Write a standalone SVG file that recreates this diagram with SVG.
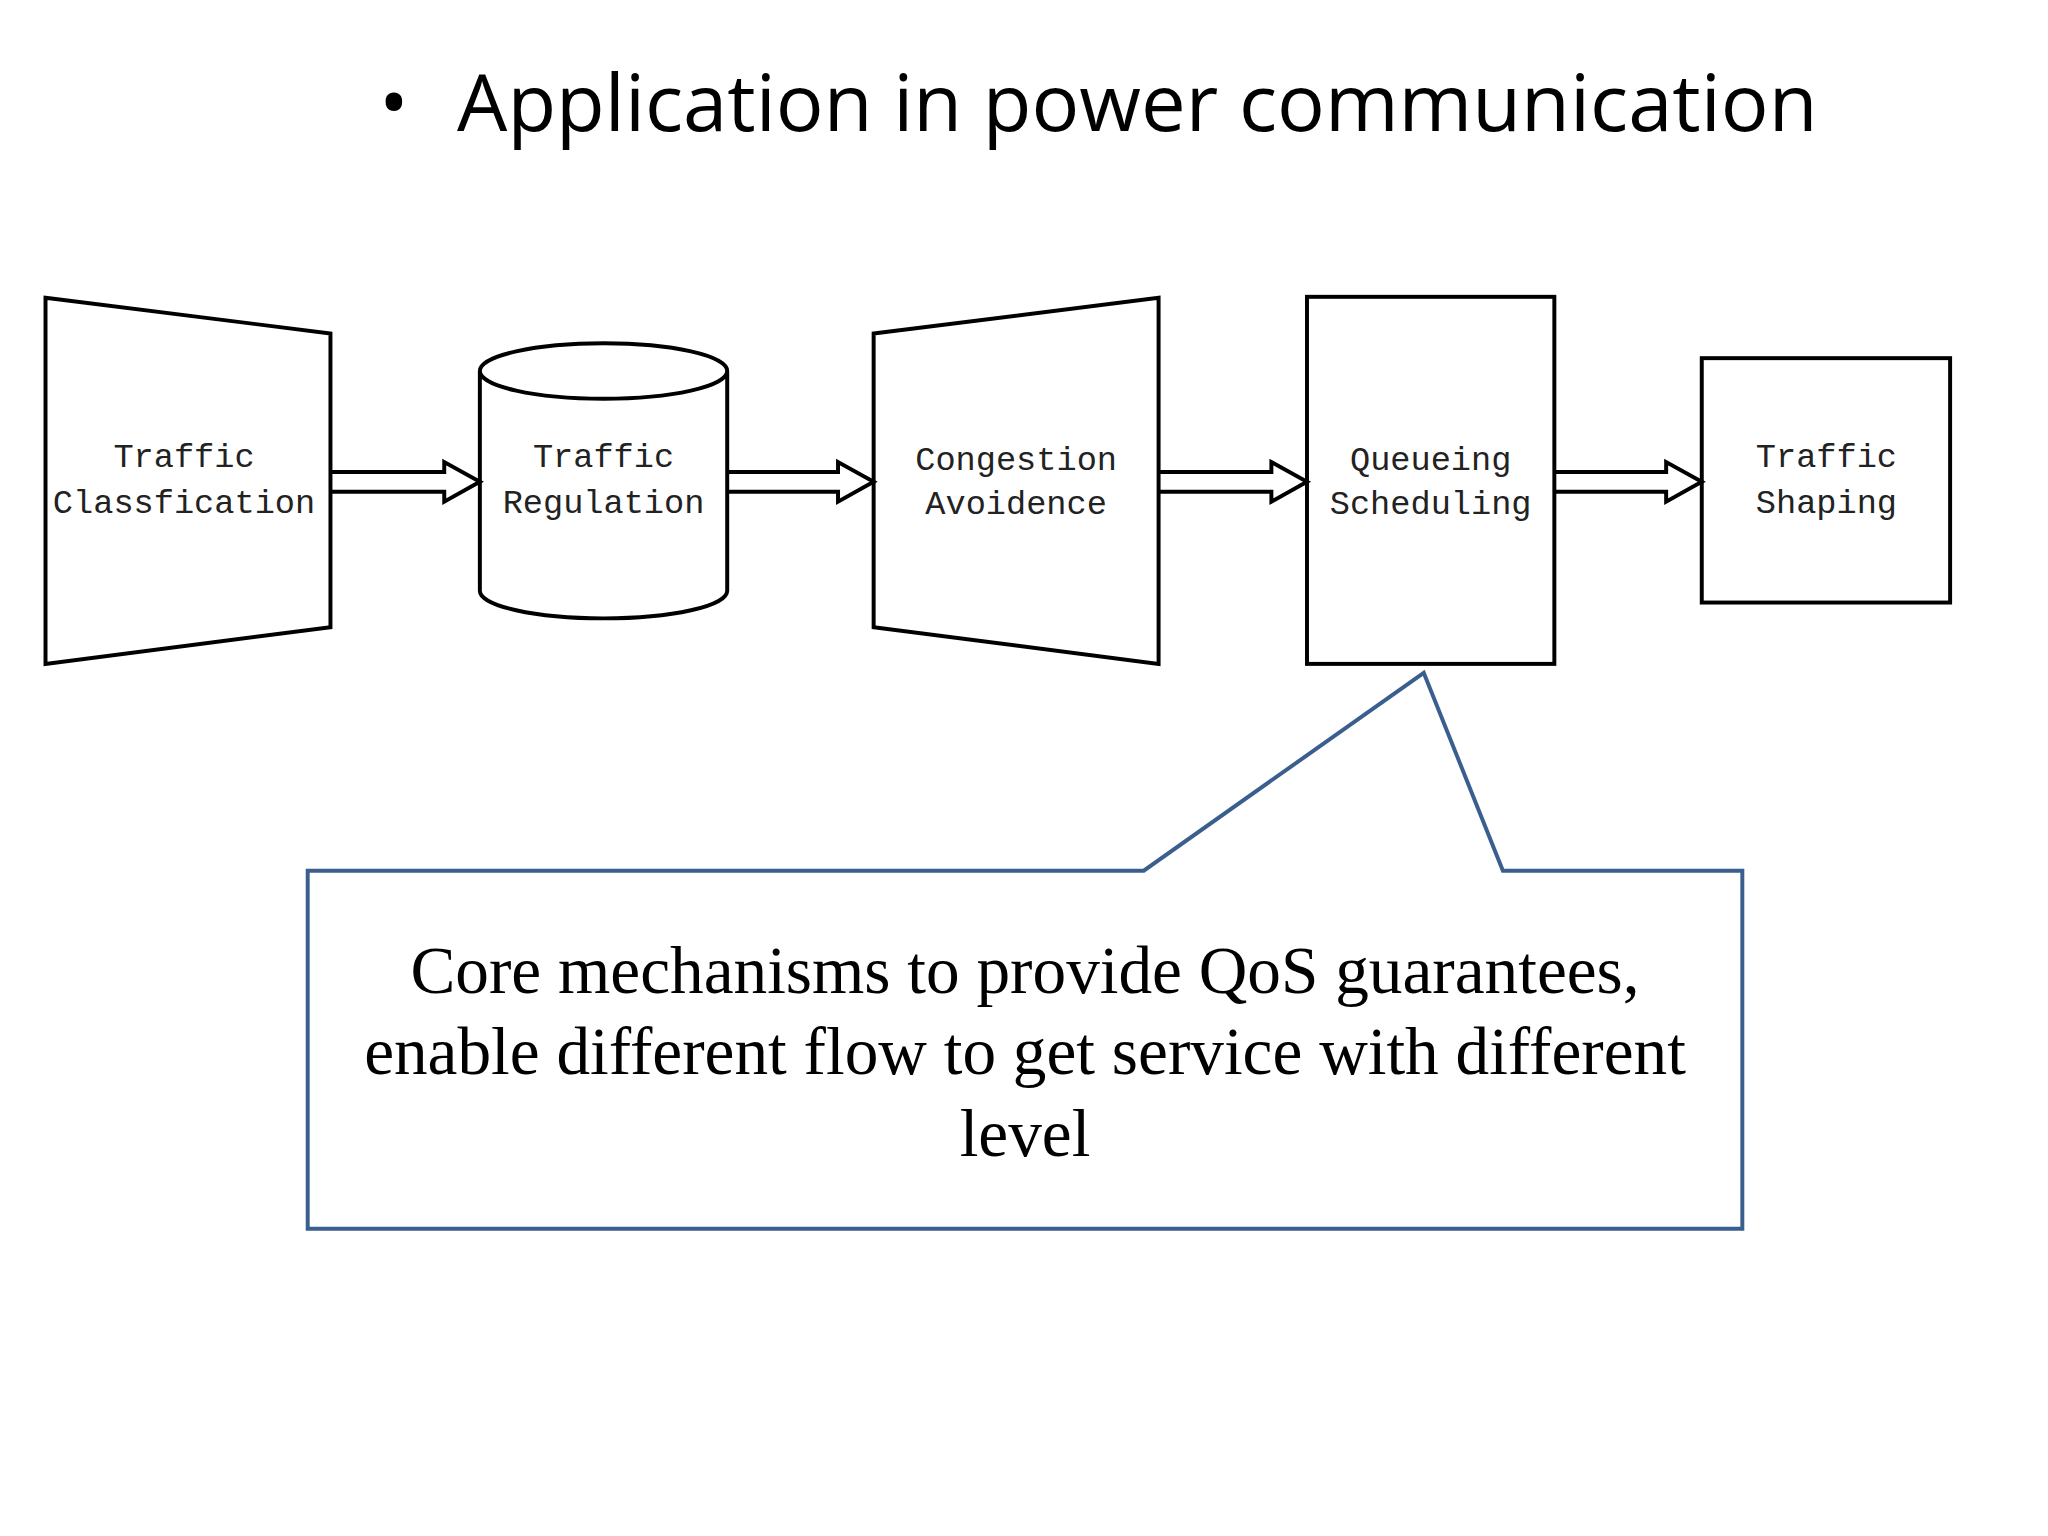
<svg xmlns="http://www.w3.org/2000/svg" width="2048" height="1536" viewBox="0 0 2048 1536">
<style>
.n{fill:#fff;stroke:#000;stroke-width:4}
.l{font-family:"Liberation Mono",monospace;font-size:34px;fill:#222;text-anchor:middle}
.a{fill:none;stroke:#000;stroke-width:4}
.c{font-family:"Liberation Serif",serif;font-size:68px;fill:#000;text-anchor:middle}
</style>
<rect width="2048" height="1536" fill="#fff"/>
<g transform="scale(0.9894)">
<text x="383" y="132" font-family="Open Sans,sans-serif" font-size="80" fill="#000">•</text>
<text x="462" y="132" font-family="Open Sans,sans-serif" font-size="80" fill="#000" textLength="1375" lengthAdjust="spacingAndGlyphs">Application in power communication</text>
<g id="n1"><polygon class="n" points="46,301 334,337 334,634 46,671"/><text class="l" x="186" y="472">Traffic</text><text class="l" x="186" y="518">Classfication</text></g>
<g id="n2"><path class="n" d="M485,375 V597 A125,28 0 0 0 735,597 V375 A125,28 0 0 0 485,375 A125,28 0 0 0 735,375"/><text class="l" x="610" y="472">Traffic</text><text class="l" x="610" y="518">Regulation</text></g>
<g id="n3"><polygon class="n" points="883,337 1171,301 1171,671 883,634"/><text class="l" x="1027" y="475">Congestion</text><text class="l" x="1027" y="520">Avoidence</text></g>
<g id="n4"><rect class="n" x="1321" y="300" width="250" height="371"/><text class="l" x="1446" y="475">Queueing</text><text class="l" x="1446" y="520">Scheduling</text></g>
<g id="n5"><rect class="n" x="1720" y="362" width="251" height="247"/><text class="l" x="1846" y="472">Traffic</text><text class="l" x="1846" y="518">Shaping</text></g>
<g id="connectors">
<path class="a" d="M334,477 H449 V467 L485,487 L449,507 V497 H334"/>
<path class="a" d="M735,477 H847 V467 L883,487 L847,507 V497 H735"/>
<path class="a" d="M1171,477 H1285 V467 L1321,487 L1285,507 V497 H1171"/>
<path class="a" d="M1571,477 H1684 V467 L1720,487 L1684,507 V497 H1571"/>
</g>
<g id="callout"><polygon points="311,880 1156,880 1439,680 1519,880 1761,880 1761,1242 311,1242" fill="#fff" stroke="#3a5f8f" stroke-width="4"/>
<text class="c" x="1036" y="1004">Core mechanisms to provide QoS guarantees,</text>
<text class="c" x="1036" y="1086">enable different flow to get service with different</text>
<text class="c" x="1036" y="1168">level</text></g>
</g>
</svg>
